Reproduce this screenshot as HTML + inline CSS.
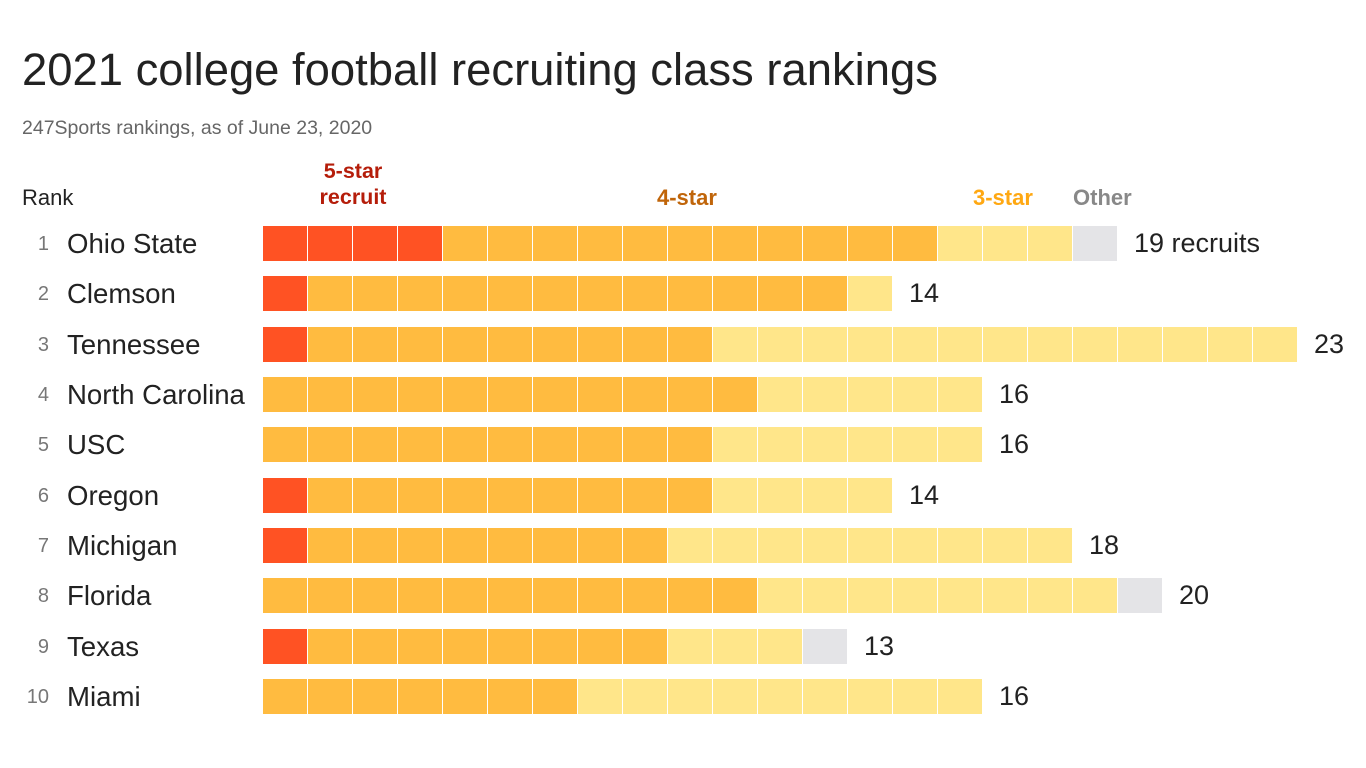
<!DOCTYPE html>
<html><head><meta charset="utf-8"><style>
body{margin:0;width:1366px;height:768px;background:#fff;font-family:"Liberation Sans",sans-serif;position:relative;overflow:hidden}
.a{position:absolute;white-space:nowrap}
.c{position:absolute;height:35px;box-sizing:border-box;border-right:1px solid #fff}
</style></head><body>
<div class="a" style="left:22px;top:44px;font-size:45.4px;color:#222">2021 college football recruiting class rankings</div>
<div class="a" style="left:22px;top:117px;font-size:19.5px;color:#666">247Sports rankings, as of June 23, 2020</div>
<div class="a" style="left:22px;top:185px;font-size:22px;color:#222">Rank</div>
<div class="a" style="left:303px;width:100px;top:158px;font-size:21.5px;font-weight:bold;color:#b51d0a;text-align:center;line-height:26px">5-star<br>recruit</div>
<div class="a" style="left:657px;top:185px;font-size:22px;font-weight:bold;color:#c0650a">4-star</div>
<div class="a" style="left:973px;top:185px;font-size:22px;font-weight:bold;color:#ffa812">3-star</div>
<div class="a" style="left:1073px;top:185px;font-size:22px;font-weight:bold;color:#888">Other</div>
<div id="rows"></div>
<script>
var d=[["Ohio State",4,11,3,1," recruits"],["Clemson",1,12,1,0],["Tennessee",1,9,13,0],["North Carolina",0,11,5,0],["USC",0,10,6,0],["Oregon",1,9,4,0],["Michigan",1,8,9,0],["Florida",0,11,8,1],["Texas",1,8,3,1],["Miami",0,7,9,0]];
var cols=["#ff5223","#ffbb40","#ffe68a","#e4e4e7"],h="";
d.forEach(function(r,i){var y=226+i*50.33,x=263,n=0;
h+='<div class="a" style="right:'+(1366-49)+'px;top:'+(y+7)+'px;font-size:20px;color:#777">'+(i+1)+'</div>';
h+='<div class="a" style="left:67px;top:'+(y+2)+'px;font-size:27.6px;color:#222">'+r[0]+'</div>';
for(var k=0;k<4;k++)for(var j=0;j<r[k+1];j++){h+='<div class="c" style="left:'+x+'px;top:'+y+'px;width:45px;background:'+cols[k]+'"></div>';x+=45;n++;}
h+='<div class="a" style="left:'+(x+16)+'px;top:'+(y+2)+'px;font-size:27px;color:#222">'+n+(r[5]||"")+'</div>';});
document.getElementById("rows").innerHTML=h;
</script>
</body></html>
